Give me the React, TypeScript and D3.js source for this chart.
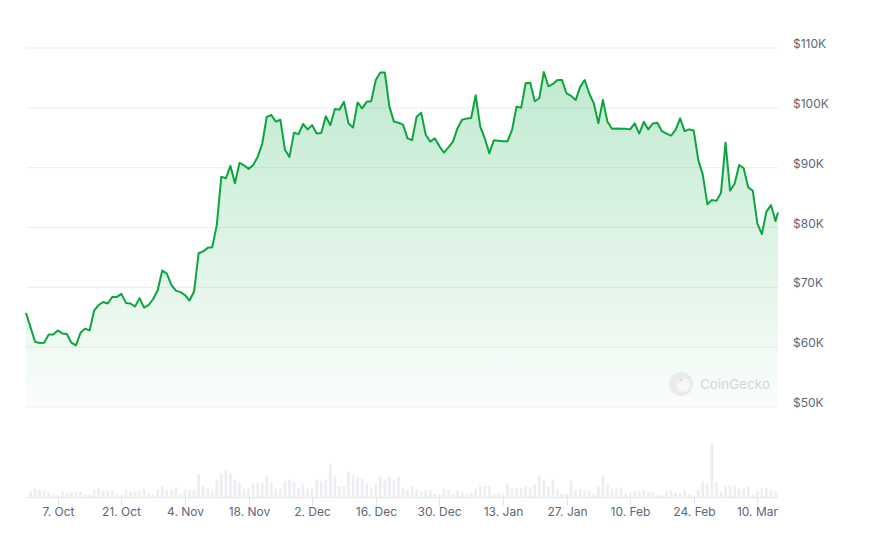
import React from 'react'
import * as d3 from 'd3'

// daily BTC price in $K, one per day from 30 Sep 2024, last one is the live point
const prices = [
  65.7, 63.3, 60.9, 60.7, 60.75, 62.1, 62.1, 62.8, 62.3, 62.2,
  60.75, 60.3, 62.4, 63.1, 62.8, 66.1, 67.05, 67.55, 67.3, 68.4,
  68.4, 68.9, 67.4, 67.3, 66.8, 68.2, 66.6, 67.05, 68.05, 69.55,
  72.8, 72.3, 70.4, 69.45, 69.2, 68.7, 67.8, 69.3, 75.7, 76.0,
  76.6, 76.7, 80.4, 88.5, 88.2, 90.3, 87.4, 90.8, 90.4, 89.8,
  90.4, 91.8, 94.0, 98.5, 98.8, 97.7, 98.0, 93.0, 91.8, 95.85,
  95.6, 97.3, 96.4, 97.1, 95.7, 95.8, 98.6, 97.1, 99.8, 99.7,
  101.0, 97.4, 96.7, 100.9, 99.9, 101.0, 101.1, 104.65, 105.9, 105.9,
  100.2, 97.7, 97.5, 97.2, 94.9, 94.6, 98.5, 99.2, 95.5, 94.35,
  94.9, 93.6, 92.5, 93.4, 94.35, 96.6, 98.0, 98.2, 98.3, 102.1,
  96.85, 94.9, 92.4, 94.6, 94.5, 94.4, 94.4, 96.3, 100.2, 100.0,
  104.1, 104.2, 101.1, 101.6, 106.0, 103.6, 104.0, 104.65, 104.65, 102.4,
  102.0, 101.3, 103.5, 104.65, 102.4, 100.75, 97.4, 101.3, 97.7, 96.5,
  96.55, 96.5, 96.5, 96.4, 97.4, 95.7, 97.65, 96.4, 97.4, 97.5,
  96.1, 95.7, 95.35, 96.3, 98.25, 96.1, 96.4, 96.2, 91.3, 88.8,
  83.9, 84.6, 84.45, 85.8, 94.2, 86.15, 87.3, 90.45, 89.9, 86.7,
  86.15, 80.7, 78.9, 82.65, 83.75, 81.1, 82.5,
]

// daily volume in $B, from 1 Oct 2024
const volumes = [
  9, 14, 12, 11, 7, 3, 3, 9, 7, 7,
  8, 9, 4, 4, 12, 14, 11, 10, 11, 5,
  4, 11, 9, 9, 10, 14, 7, 5, 12, 19,
  12, 12, 16, 5, 12, 12, 12, 38, 19, 14,
  9, 28, 39, 44, 39, 29, 24, 14, 14, 23,
  23, 24, 34, 24, 14, 14, 26, 29, 26, 14,
  21, 14, 14, 29, 27, 29, 56, 34, 18, 18,
  42, 37, 34, 30, 22, 16, 21, 34, 28, 33,
  29, 33, 16, 12, 19, 13, 9, 12, 11, 5,
  5, 14, 12, 5, 11, 9, 5, 7, 13, 18,
  18, 18, 4, 6, 6, 22, 14, 15, 15, 19,
  16, 21, 36, 28, 17, 29, 13, 5, 5, 27,
  12, 13, 12, 11, 5, 17, 36, 21, 14, 14,
  16, 5, 7, 11, 11, 12, 8, 8, 4, 3,
  9, 11, 7, 7, 12, 5, 3, 12, 27, 22,
  90, 24, 9, 19, 19, 19, 14, 14, 17, 4,
  9, 14, 15, 12, 9,
]

const yTicks = [50, 60, 70, 80, 90, 100, 110]
const xTicks = [
  '2024-10-07', '2024-10-21', '2024-11-04', '2024-11-18', '2024-12-02', '2024-12-16',
  '2024-12-30', '2025-01-13', '2025-01-27', '2025-02-10', '2025-02-24', '2025-03-10',
]

const startDate = new Date(Date.UTC(2024, 8, 30))
const lastPointTime = new Date(Date.UTC(2024, 8, 30) + 165.55 * 864e5)

const width = 873
const height = 535
const left = 26
const right = 778
const volBase = 497

const App: React.FunctionComponent = () => {
  const points = prices.map((p, i) => ({
    date: i === prices.length - 1 ? lastPointTime : d3.utcDay.offset(startDate, i),
    value: p,
  }))

  const x = d3.scaleUtc().domain([startDate, lastPointTime]).range([left, right])
  const y = d3.scaleLinear().domain([50, 110]).range([407, 48])
  const v = d3.scaleLinear().domain([0, 150]).range([0, 90])

  const line = d3
    .line<{ date: Date; value: number }>()
    .x(d => x(d.date))
    .y(d => y(d.value))
  const area = d3
    .area<{ date: Date; value: number }>()
    .x(d => x(d.date))
    .y0(y(50))
    .y1(d => y(d.value))

  const fmt = d3.utcFormat('%-d. %b')
  const labelColor = '#5d667a'
  const font = 'Inter, "Open Sans", sans-serif'

  return (
    <svg
      width={width}
      height={height}
      style={{ position: 'absolute', left: 0, top: 0, background: '#fff' }}
    >
      <defs>
        <linearGradient id="fill" gradientUnits="userSpaceOnUse" x1={0} y1={48} x2={0} y2={407}>
          <stop offset="0%" stopColor="#00a83e" stopOpacity={0.26} />
          <stop offset="100%" stopColor="#00a83e" stopOpacity={0.02} />
        </linearGradient>
      </defs>

      {yTicks.map(t => (
        <g key={t}>
          <line x1={left} x2={right} y1={y(t)} y2={y(t)} stroke="#ebedf0" strokeWidth={1} />
          <text x={793} y={y(t)} fill={labelColor} fontSize={12} fontFamily={font}>
            ${t}K
          </text>
        </g>
      ))}

      <path d={area(points) || ''} fill="url(#fill)" />

      {/* watermark */}
      <g>
        <circle cx={681} cy={384} r={12} fill="#ebebeb" />
        <circle cx={683} cy={385} r={7} fill="#f6f6f6" />
        <circle cx={681} cy={380} r={1.6} fill="#dadada" />
        <text x={700} y={389} fill="#d6d6d6" fontSize={13.5} fontFamily={font}>
          CoinGecko
        </text>
      </g>

      <path d={line(points) || ''} fill="none" stroke="#0ba53e" strokeWidth={2} strokeLinejoin="round" />

      {volumes.map((vol, i) => {
        const cx = x(d3.utcDay.offset(startDate, i + 1))
        return (
          <rect
            key={i}
            x={cx - 1.4}
            y={volBase - v(vol)}
            width={2.8}
            height={v(vol)}
            fill="#eceef2"
          />
        )
      })}

      <line x1={left} x2={right} y1={volBase + 0.5} y2={volBase + 0.5} stroke="#e6e9ed" />
      {xTicks.map(t => {
        const d = new Date(t + 'T00:00:00Z')
        const tx = Math.round(x(d)) + 0.5
        return (
          <g key={t}>
            <line x1={tx} x2={tx} y1={volBase} y2={506} stroke="#e3e6ea" />
            <text
              x={tx}
              y={516}
              textAnchor="middle"
              fill={labelColor}
              fontSize={12}
              fontFamily={font}
            >
              {fmt(d)}
            </text>
          </g>
        )
      })}
    </svg>
  )
}

export default App
